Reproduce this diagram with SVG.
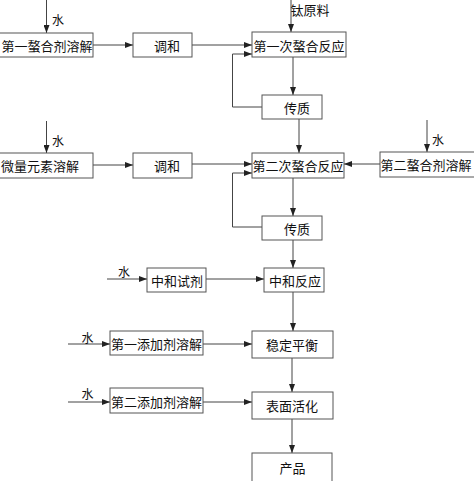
<svg xmlns="http://www.w3.org/2000/svg" width="474" height="481" viewBox="0 0 474 481">
<defs>
<marker id="ah" markerWidth="8" markerHeight="6" refX="8" refY="3" orient="auto" markerUnits="userSpaceOnUse">
<path d="M0,0 L8,3 L0,6 Z" fill="#222"/>
</marker>
<style>
.box{fill:#fff;stroke:#555;stroke-width:1}
.t{font-family:"Noto Sans CJK SC","Noto Sans CJK JP",sans-serif;font-size:13px;fill:#111;text-anchor:middle;dominant-baseline:central}
.w{font-family:"Noto Sans CJK SC","Noto Sans CJK JP",sans-serif;font-size:12px;fill:#111;text-anchor:middle;dominant-baseline:central}
.ln{fill:none;stroke:#444;stroke-width:1}
.ar{fill:none;stroke:#444;stroke-width:1;marker-end:url(#ah)}
</style>
</defs>
<rect width="474" height="481" fill="#fff"/>
<g id="connectors">
<line class="ar" x1="46.5" y1="0" x2="46.5" y2="33"/>
<line class="ar" x1="93" y1="45" x2="133" y2="45"/>
<line class="ar" x1="192" y1="45" x2="252" y2="45"/>
<line class="ar" x1="291" y1="8" x2="291" y2="32"/>
<line class="ln" x1="291" y1="0" x2="291" y2="8"/>
<line class="ar" x1="293" y1="57" x2="293" y2="95"/>
<polyline class="ar" points="262,107 232.5,107 232.5,54 252,54"/>
<line class="ar" x1="299" y1="119" x2="299" y2="153"/>
<line class="ar" x1="46.5" y1="121" x2="46.5" y2="153"/>
<line class="ar" x1="93" y1="165" x2="133" y2="165"/>
<line class="ar" x1="192" y1="164" x2="252" y2="164"/>
<line class="ar" x1="427" y1="120" x2="427" y2="152"/>
<line class="ar" x1="380" y1="164" x2="344" y2="164"/>
<line class="ar" x1="293" y1="178" x2="293" y2="216"/>
<polyline class="ar" points="262,227 232.5,227 232.5,173 252,173"/>
<line class="ar" x1="293" y1="240" x2="293" y2="268"/>
<line class="ar" x1="107" y1="279" x2="147" y2="279"/>
<line class="ar" x1="206" y1="279" x2="264" y2="279"/>
<line class="ar" x1="293" y1="292" x2="293" y2="331"/>
<line class="ar" x1="68" y1="344" x2="110" y2="344"/>
<line class="ar" x1="203" y1="344" x2="252" y2="344"/>
<line class="ar" x1="292" y1="358" x2="292" y2="392"/>
<line class="ar" x1="68" y1="402" x2="110" y2="402"/>
<line class="ar" x1="203" y1="402" x2="252" y2="402"/>
<line class="ar" x1="292" y1="419" x2="292" y2="453"/>
</g>
<g id="labels">
<text class="w" x="58" y="19">水</text>
<text class="t" x="310" y="9">钛原料</text>
<text class="w" x="58" y="140">水</text>
<text class="w" x="438" y="139">水</text>
<text class="w" x="124" y="271">水</text>
<text class="w" x="87.5" y="337">水</text>
<text class="w" x="87.5" y="393">水</text>
</g>
<g id="n1"><rect class="box" x="-1" y="33" width="94" height="24"/><text class="t" x="47" y="45">第一螯合剂溶解</text></g>
<g id="n2"><rect class="box" x="133" y="33" width="59" height="24"/><text class="t" x="167" y="45">调和</text></g>
<g id="n3"><rect class="box" x="252" y="32" width="94" height="25"/><text class="t" x="299" y="45">第一次螯合反应</text></g>
<g id="n4"><rect class="box" x="262" y="95" width="60" height="24"/><text class="t" x="297" y="107">传质</text></g>
<g id="n5"><rect class="box" x="-1" y="153" width="94" height="25"/><text class="t" x="40" y="165">微量元素溶解</text></g>
<g id="n6"><rect class="box" x="133" y="153" width="59" height="25"/><text class="t" x="167" y="165">调和</text></g>
<g id="n7"><rect class="box" x="252" y="153" width="92" height="25"/><text class="t" x="298" y="165">第二次螯合反应</text></g>
<g id="n8"><rect class="box" x="380" y="152" width="100" height="25"/><text class="t" x="426" y="164">第二螯合剂溶解</text></g>
<g id="n9"><rect class="box" x="262" y="216" width="60" height="24"/><text class="t" x="297" y="228">传质</text></g>
<g id="n10"><rect class="box" x="147" y="268" width="59" height="24"/><text class="t" x="177" y="280">中和试剂</text></g>
<g id="n11"><rect class="box" x="264" y="268" width="60" height="24"/><text class="t" x="295" y="280">中和反应</text></g>
<g id="n12"><rect class="box" x="110" y="331" width="93" height="24"/><text class="t" x="156.5" y="343">第一添加剂溶解</text></g>
<g id="n13"><rect class="box" x="252" y="331" width="81" height="27"/><text class="t" x="292" y="344">稳定平衡</text></g>
<g id="n14"><rect class="box" x="110" y="388" width="93" height="25"/><text class="t" x="156.5" y="401">第二添加剂溶解</text></g>
<g id="n15"><rect class="box" x="252" y="392" width="81" height="27"/><text class="t" x="292" y="405">表面活化</text></g>
<g id="n16"><rect class="box" x="252" y="453" width="80" height="40"/><text class="t" x="292.5" y="467">产品</text></g>
</svg>
